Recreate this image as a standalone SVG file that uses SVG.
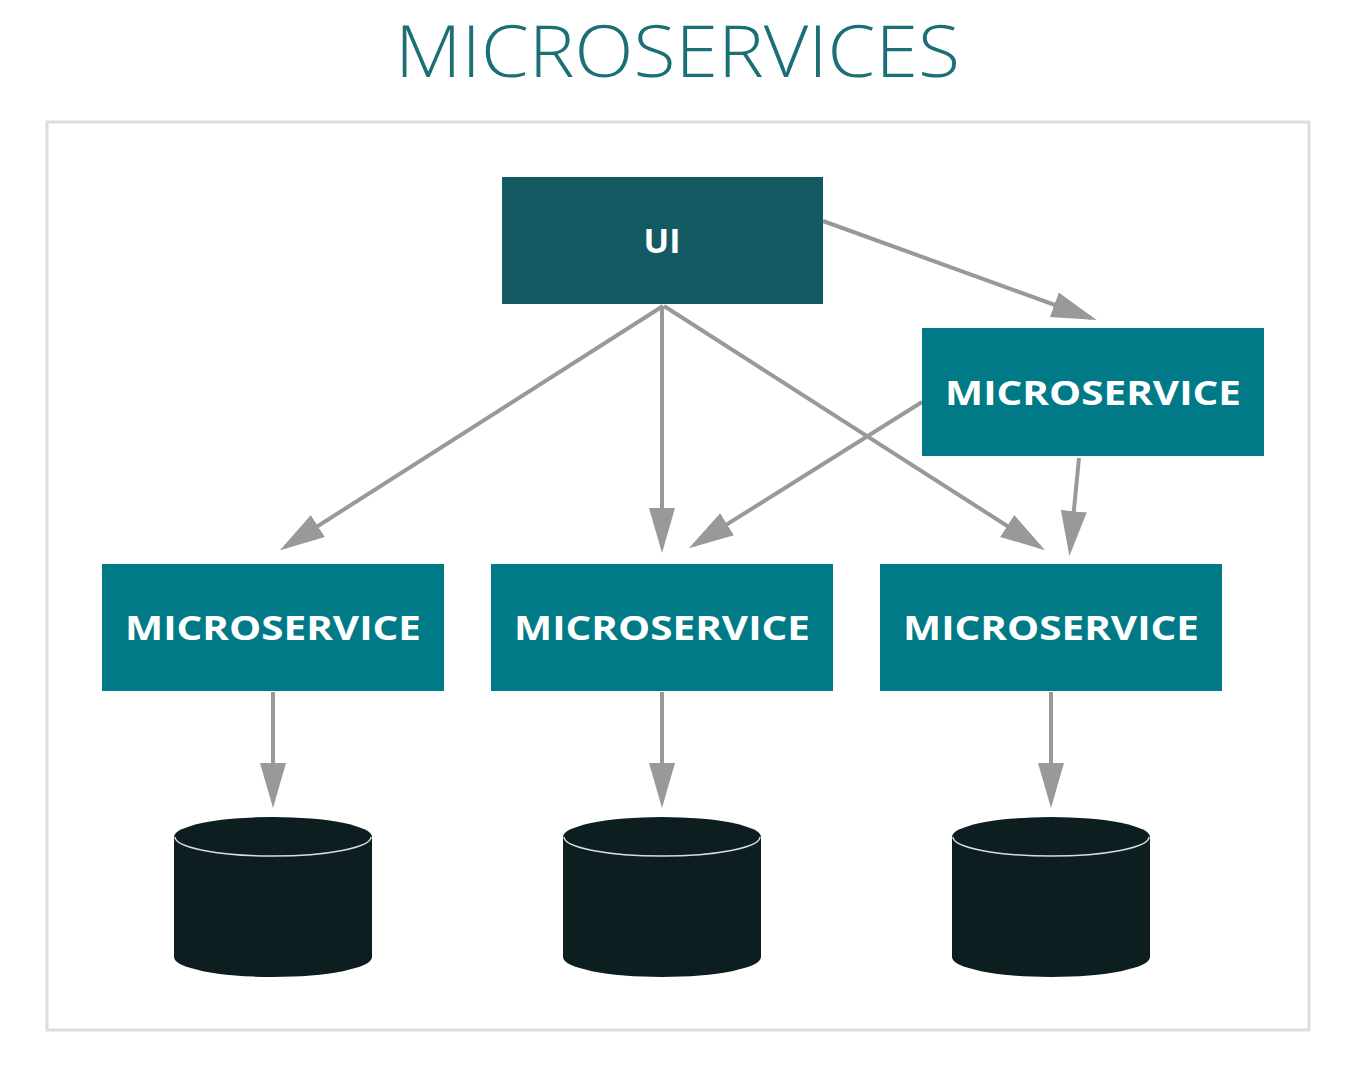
<svg xmlns="http://www.w3.org/2000/svg" width="1358" height="1070" viewBox="0 0 1358 1070">
<style>
.title{font-family:"Open Sans","Liberation Sans",sans-serif;font-weight:300;font-size:72px;fill:#1b6f75}
.lbl{font-family:"Open Sans","Liberation Sans",sans-serif;font-weight:700;font-size:34px;fill:#fff;text-anchor:middle}
.ms{fill:#007a87}
.db{fill:#0c1e20}
.c line{stroke:#999;stroke-width:4;marker-end:url(#ah)}
</style>
<defs>
<marker id="ah" markerUnits="userSpaceOnUse" markerWidth="46" markerHeight="28" refX="39" refY="13" orient="auto">
<path d="M0,0 L45,13 L0,26 Z" fill="#999"/>
</marker>
</defs>
<rect width="1358" height="1070" fill="#fff"/>
<text class="title" x="395" y="77" textLength="565" lengthAdjust="spacingAndGlyphs">MICROSERVICES</text>
<rect x="47" y="122" width="1262" height="908" fill="none" stroke="#ddd" stroke-width="3"/>
<g class="c" id="connectors">
<line x1="823" y1="221" x2="1091" y2="318"/>
<line x1="663" y1="306" x2="285" y2="547"/>
<line x1="662" y1="306" x2="662" y2="547"/>
<line x1="664" y1="306" x2="1040" y2="547"/>
<line x1="922" y1="402" x2="694" y2="545"/>
<line x1="1079" y1="458" x2="1070" y2="550"/>
<line x1="273" y1="692" x2="273" y2="802"/>
<line x1="662" y1="692" x2="662" y2="802"/>
<line x1="1051" y1="692" x2="1051" y2="802"/>
</g>
<g id="ui"><rect x="502" y="177" width="321" height="127" fill="#135a63"/><text class="lbl" x="662" y="253">UI</text></g>
<g id="ms-top"><rect class="ms" x="922" y="328" width="342" height="128"/><text class="lbl" x="1093" y="405" textLength="296" lengthAdjust="spacingAndGlyphs">MICROSERVICE</text></g>
<g id="ms-1"><rect class="ms" x="102" y="564" width="342" height="127"/><text class="lbl" x="273" y="640" textLength="296" lengthAdjust="spacingAndGlyphs">MICROSERVICE</text></g>
<g id="ms-2"><rect class="ms" x="491" y="564" width="342" height="127"/><text class="lbl" x="662" y="640" textLength="296" lengthAdjust="spacingAndGlyphs">MICROSERVICE</text></g>
<g id="ms-3"><rect class="ms" x="880" y="564" width="342" height="127"/><text class="lbl" x="1051" y="640" textLength="296" lengthAdjust="spacingAndGlyphs">MICROSERVICE</text></g>
<g id="db-1"><path class="db" d="M174,837 A99,20 0 0 1 372,837 V957 A99,20 0 0 1 174,957 Z"/><path d="M175,837 A98,19 0 0 0 371,837" fill="none" stroke="#ddd" stroke-width="1.5"/></g>
<g id="db-2"><path class="db" d="M563,837 A99,20 0 0 1 761,837 V957 A99,20 0 0 1 563,957 Z"/><path d="M564,837 A98,19 0 0 0 760,837" fill="none" stroke="#ddd" stroke-width="1.5"/></g>
<g id="db-3"><path class="db" d="M952,837 A99,20 0 0 1 1150,837 V957 A99,20 0 0 1 952,957 Z"/><path d="M953,837 A98,19 0 0 0 1149,837" fill="none" stroke="#ddd" stroke-width="1.5"/></g>
</svg>
